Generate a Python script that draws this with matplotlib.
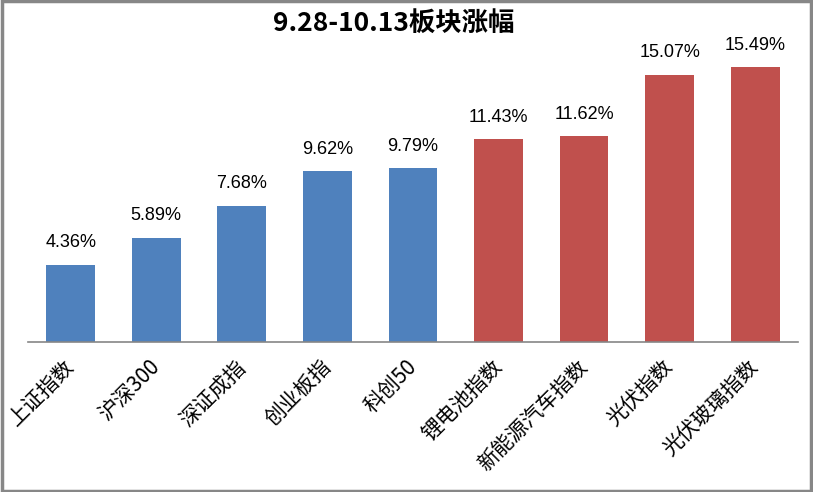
import matplotlib.pyplot as plt
from matplotlib.patches import Rectangle
from matplotlib.transforms import ScaledTranslation

plt.rcParams['font.family'] = ['Noto Sans CJK SC', 'DejaVu Sans']

# 数据
categories = ["上证指数", "沪深300", "深证成指", "创业板指", "科创50",
              "锂电池指数", "新能源汽车指数", "光伏指数", "光伏玻璃指数"]
gains = [4.36, 5.89, 7.68, 9.62, 9.79, 11.43, 11.62, 15.07, 15.49]
colors = ["#4F81BD"] * 5 + ["#C0504D"] * 4

fig = plt.figure(figsize=(8.13, 4.92), dpi=100)
ax = fig.add_axes([0.0344, 0.3049, 0.9471, 0.5931])

x = range(len(categories))
ax.bar(x, gains, width=0.57, color=colors)
for i, v in enumerate(gains):
    ax.text(i, v + 0.75, f"{v:.2f}%", ha="center", va="bottom", fontsize=13,
            family=["Liberation Sans", "DejaVu Sans"])

ax.set_xlim(-0.5, len(categories) - 0.5)
ax.set_ylim(0, 16.45)
ax.set_xticks(list(x))
ax.set_xticklabels(categories, rotation=45, ha="right", va="top", fontsize=15)
ax.tick_params(axis="x", length=0, pad=10)
shift = ScaledTranslation(8 / 100, 0, fig.dpi_scale_trans)
for lbl in ax.get_xticklabels():
    lbl.set_transform(lbl.get_transform() + shift)
ax.set_yticks([])
for s in ["top", "right", "left"]:
    ax.spines[s].set_visible(False)
ax.spines["bottom"].set_color("#868686")
ax.spines["bottom"].set_linewidth(1.2)

fig.text(0.484, 0.953, "9.28-10.13板块涨幅", ha="center", va="center",
         fontsize=19, fontweight="bold")

# 外框
fig.patches.append(Rectangle((0.002, 0.003), 0.996, 0.994, transform=fig.transFigure,
                             fill=False, edgecolor="#878787", linewidth=2.5))

fig.savefig("out.png", dpi=100)
